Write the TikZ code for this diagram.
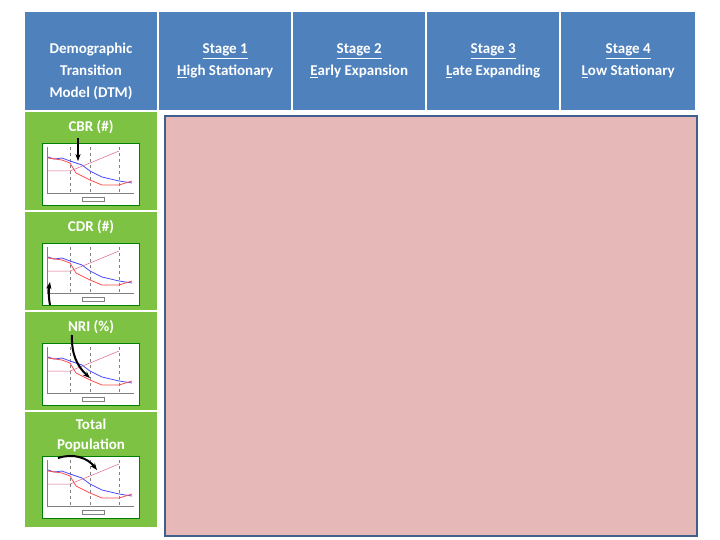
\documentclass[tikz,border=0pt]{standalone}
\usepackage{fontspec}
\setmainfont{Carlito}
\usetikzlibrary{arrows.meta}
\definecolor{hblue}{HTML}{4F81BD}
\definecolor{cgreen}{HTML}{7DC243}
\definecolor{pinkf}{HTML}{E6B8B7}
\definecolor{bord}{HTML}{3F5F8F}
\tikzset{hdr/.style={fill=hblue,draw=none,text=white,font=\bfseries\fontsize{15}{22}\selectfont,align=center},
  grn/.style={fill=cgreen,draw=none,text=white,font=\bfseries\fontsize{15}{20}\selectfont,align=center},
  arr/.style={-{Stealth[length=7pt]},line width=2pt,black}}
\newcommand{\thumb}[2]{%
\begin{scope}[shift={(#1,#2)}]
\fill[white,draw=green!50!black,line width=0.8pt] (0,0) rectangle (97,62);
\draw[gray,dashed,line width=0.4pt] (28,4)--(28,50) (48,4)--(48,50) (77,4)--(77,50);
\draw[blue!70,line width=0.8pt] (6,14)--(12,16)--(20,15)--(28,18)--(40,22)--(48,28)--(60,34)--(77,38)--(90,40);
\draw[red!70,line width=0.8pt] (6,15)--(20,17)--(28,20)--(34,30)--(48,37)--(60,42)--(77,42)--(90,38);
\draw[purple!60,line width=0.5pt] (6,28)--(28,28)--(48,20)--(77,8);
\draw[gray,line width=0.4pt] (5,50)--(92,50) (5,4)--(5,50);
\draw[gray] (40,54) rectangle (62,58);
\end{scope}}
\begin{document}
\begin{tikzpicture}[x=1pt,y=-1pt]
\useasboundingbox (0,0) rectangle (720,540);
\fill[white] (0,0) rectangle (720,540);
\fill[hblue] (25,12) rectangle (157,110);
\node[hdr,fill=none] (h0) at (91,71) {Demographic\\Transition\\Model (DTM)};
\node[hdr,minimum width=132,minimum height=98,anchor=north west] (h1) at (159,12) {\underline{Stage 1}\\\underline{H}igh Stationary};
\node[hdr,minimum width=132,minimum height=98,anchor=north west] (h2) at (293,12) {\underline{Stage 2}\\\underline{E}arly Expansion};
\node[hdr,minimum width=132,minimum height=98,anchor=north west] (h3) at (427,12) {\underline{Stage 3}\\\underline{L}ate Expanding};
\node[hdr,minimum width=134,minimum height=98,anchor=north west] (h4) at (561,12) {\underline{Stage 4}\\\underline{L}ow Stationary};
\fill[cgreen] (25,112) rectangle (157,210);
\fill[cgreen] (25,212) rectangle (157,310);
\fill[cgreen] (25,312) rectangle (157,410);
\fill[cgreen] (25,412) rectangle (157,527);
\node[grn] (t1) at (91,127) {CBR (\#)};
\node[grn] (t2) at (91,227) {CDR (\#)};
\node[grn] (t3) at (91,327) {NRI (\%)};
\node[grn] (t4) at (91,435) {Total\\Population};
\thumb{42}{143}
\thumb{42}{243}
\thumb{42}{343}
\thumb{42}{456}
\coordinate (a1s) at (78,138); \coordinate (a1e) at (78,161);
\draw[arr] (a1s)--(a1e);
\coordinate (a2s) at (50,305); \coordinate (a2e) at (50,282);
\draw[arr] (a2s) to[bend left=10] (a2e);
\coordinate (a3s) at (72,335); \coordinate (a3e) at (90,378);
\draw[arr] (a3s) to[bend right=25] (a3e);
\coordinate (a4s) at (58,458); \coordinate (a4e) at (97,470);
\draw[arr] (a4s) to[bend left=35] (a4e);
\node[fill=pinkf,draw=bord,line width=2pt,minimum width=532,minimum height=420,anchor=north west] (main) at (164,115) {};
\end{tikzpicture}
\end{document}
